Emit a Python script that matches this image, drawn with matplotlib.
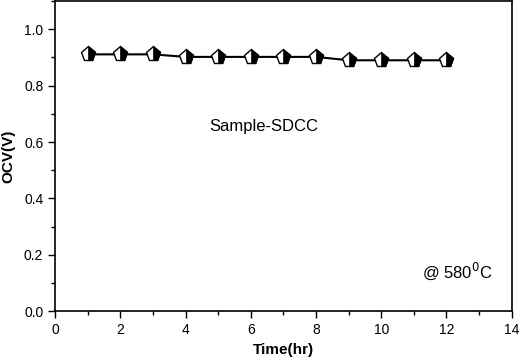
import numpy as np
import matplotlib.pyplot as plt
from matplotlib.ticker import MultipleLocator

plt.rcParams['font.family'] = ['Liberation Sans', 'DejaVu Sans']

time_hr = [1, 2, 3, 4, 5, 6, 7, 8, 9, 10, 11, 12]
ocv_v = [0.911, 0.911, 0.911, 0.902, 0.902, 0.902, 0.902, 0.902, 0.890, 0.890, 0.890, 0.890]

# right half of an upward pentagon, used to shade the marker
ang = np.deg2rad([90, 18, -54])
half_pent = [(np.cos(a), np.sin(a)) for a in ang] + [(0, np.sin(ang[-1])), (0, 1)]

fig, ax = plt.subplots(figsize=(5.2, 3.61), dpi=100)
fig.subplots_adjust(left=0.106, right=0.984, top=0.997, bottom=0.138)

ax.plot(time_hr, ocv_v, color='black', lw=1.5, marker='p', markersize=11,
        markerfacecolor='white', markeredgecolor='black', markeredgewidth=1.0)
ax.plot(time_hr, ocv_v, ls='none', marker=half_pent, markersize=11,
        markerfacecolor='black', markeredgecolor='black', markeredgewidth=0.5)

ax.set_xlim(0, 14)
ax.set_ylim(0, 1.1)
ax.xaxis.set_major_locator(MultipleLocator(2))
ax.xaxis.set_minor_locator(MultipleLocator(1))
ax.yaxis.set_major_locator(MultipleLocator(0.2))
ax.yaxis.set_minor_locator(MultipleLocator(0.1))
ax.yaxis.set_major_formatter(plt.FormatStrFormatter('%.1f'))
ax.tick_params(which='major', direction='out', length=5, width=1, labelsize=10)
ax.tick_params(which='minor', direction='out', length=3, width=1)
for s in ax.spines.values():
    s.set_linewidth(1.2)

ax.set_xlabel('Time(hr)', fontsize=11, fontweight='bold', labelpad=4)
ax.set_ylabel('OCV(V)', fontsize=11, fontweight='bold', labelpad=6)

ax.text(6.39, 0.654, 'Sample-SDCC', fontsize=12, ha='center', va='center')
ax.text(12.34, 0.143, '@ 580$^0$C', fontsize=12, ha='center', va='center')

fig.savefig('out.png', dpi=100)
